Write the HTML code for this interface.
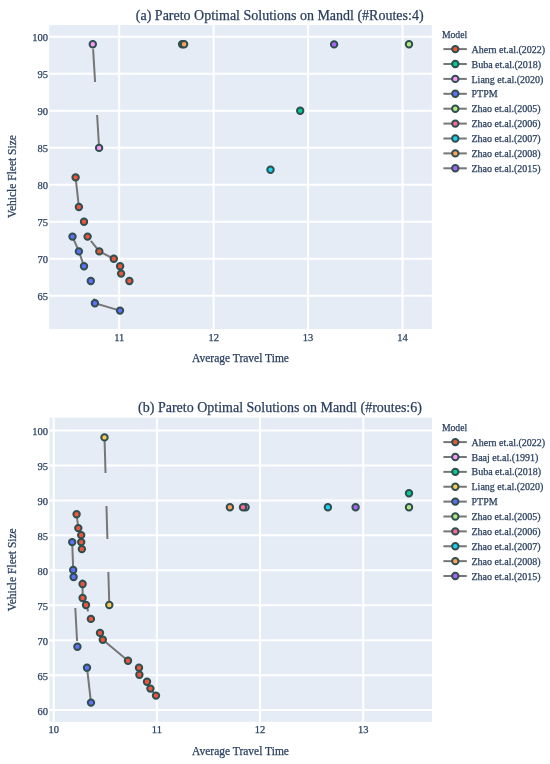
<!DOCTYPE html>
<html><head><meta charset="utf-8"><title>Pareto Optimal Solutions on Mandl</title>
<style>
html,body{margin:0;padding:0;background:#fff;}
body{width:550px;height:764px;overflow:hidden;}
svg{display:block;}
text{font-family:'Liberation Serif', serif;fill:#2a3f5f;stroke:#2a3f5f;stroke-width:0.25px;}
</style></head>
<body>
<svg width="550" height="764" viewBox="0 0 550 764">
<rect x="0" y="0" width="550" height="764" fill="#fff"/>
<rect x="49.20" y="25.00" width="382.60" height="304.00" fill="#E5ECF6"/>
<line x1="119.20" y1="25.0" x2="119.20" y2="329.0" stroke="#fff" stroke-width="2"/>
<line x1="213.65" y1="25.0" x2="213.65" y2="329.0" stroke="#fff" stroke-width="2"/>
<line x1="308.10" y1="25.0" x2="308.10" y2="329.0" stroke="#fff" stroke-width="2"/>
<line x1="402.55" y1="25.0" x2="402.55" y2="329.0" stroke="#fff" stroke-width="2"/>
<line x1="49.2" y1="36.80" x2="431.8" y2="36.80" stroke="#fff" stroke-width="2"/>
<line x1="49.2" y1="73.80" x2="431.8" y2="73.80" stroke="#fff" stroke-width="2"/>
<line x1="49.2" y1="110.80" x2="431.8" y2="110.80" stroke="#fff" stroke-width="2"/>
<line x1="49.2" y1="147.80" x2="431.8" y2="147.80" stroke="#fff" stroke-width="2"/>
<line x1="49.2" y1="184.80" x2="431.8" y2="184.80" stroke="#fff" stroke-width="2"/>
<line x1="49.2" y1="221.80" x2="431.8" y2="221.80" stroke="#fff" stroke-width="2"/>
<line x1="49.2" y1="258.80" x2="431.8" y2="258.80" stroke="#fff" stroke-width="2"/>
<line x1="49.2" y1="295.80" x2="431.8" y2="295.80" stroke="#fff" stroke-width="2"/>
<path d="M75.60,177.40 L78.90,207.00 L84.00,221.80 L87.60,236.60 L99.30,251.40 L113.80,258.80 L120.10,266.20 L121.10,273.60 L129.40,281.00" fill="none" stroke="#767676" stroke-width="2.0" stroke-dasharray="33.0 33.0" stroke-dashoffset="0.0"/>
<circle cx="75.60" cy="177.40" r="3.2" fill="#EF553B" stroke="#2f4f4f" stroke-width="2.0"/>
<circle cx="78.90" cy="207.00" r="3.2" fill="#EF553B" stroke="#2f4f4f" stroke-width="2.0"/>
<circle cx="84.00" cy="221.80" r="3.2" fill="#EF553B" stroke="#2f4f4f" stroke-width="2.0"/>
<circle cx="87.60" cy="236.60" r="3.2" fill="#EF553B" stroke="#2f4f4f" stroke-width="2.0"/>
<circle cx="99.30" cy="251.40" r="3.2" fill="#EF553B" stroke="#2f4f4f" stroke-width="2.0"/>
<circle cx="113.80" cy="258.80" r="3.2" fill="#EF553B" stroke="#2f4f4f" stroke-width="2.0"/>
<circle cx="120.10" cy="266.20" r="3.2" fill="#EF553B" stroke="#2f4f4f" stroke-width="2.0"/>
<circle cx="121.10" cy="273.60" r="3.2" fill="#EF553B" stroke="#2f4f4f" stroke-width="2.0"/>
<circle cx="129.40" cy="281.00" r="3.2" fill="#EF553B" stroke="#2f4f4f" stroke-width="2.0"/>
<circle cx="300.20" cy="110.80" r="3.2" fill="#00CC96" stroke="#2f4f4f" stroke-width="2.0"/>
<path d="M99.10,147.90 L92.80,44.30" fill="none" stroke="#767676" stroke-width="2.0" stroke-dasharray="33.0 33.0" stroke-dashoffset="0.0"/>
<circle cx="99.10" cy="147.90" r="3.2" fill="#FF97FF" stroke="#2f4f4f" stroke-width="2.0"/>
<circle cx="92.80" cy="44.30" r="3.2" fill="#FF97FF" stroke="#2f4f4f" stroke-width="2.0"/>
<path d="M72.50,236.60 L78.90,251.40 L84.00,266.20 L90.80,281.00 L94.90,303.20 L120.00,310.60" fill="none" stroke="#767676" stroke-width="2.0" stroke-dasharray="33.0 33.0" stroke-dashoffset="0.0"/>
<circle cx="72.50" cy="236.60" r="3.2" fill="#636EFA" stroke="#2f4f4f" stroke-width="2.0"/>
<circle cx="78.90" cy="251.40" r="3.2" fill="#636EFA" stroke="#2f4f4f" stroke-width="2.0"/>
<circle cx="84.00" cy="266.20" r="3.2" fill="#636EFA" stroke="#2f4f4f" stroke-width="2.0"/>
<circle cx="90.80" cy="281.00" r="3.2" fill="#636EFA" stroke="#2f4f4f" stroke-width="2.0"/>
<circle cx="94.90" cy="303.20" r="3.2" fill="#636EFA" stroke="#2f4f4f" stroke-width="2.0"/>
<circle cx="120.00" cy="310.60" r="3.2" fill="#636EFA" stroke="#2f4f4f" stroke-width="2.0"/>
<circle cx="409.00" cy="44.20" r="3.2" fill="#B6E880" stroke="#2f4f4f" stroke-width="2.0"/>
<circle cx="182.10" cy="44.20" r="3.2" fill="#FF6692" stroke="#2f4f4f" stroke-width="2.0"/>
<circle cx="270.50" cy="169.80" r="3.2" fill="#19D3F3" stroke="#2f4f4f" stroke-width="2.0"/>
<circle cx="184.10" cy="44.20" r="3.2" fill="#FFA15A" stroke="#2f4f4f" stroke-width="2.0"/>
<circle cx="334.10" cy="44.40" r="3.2" fill="#AB63FA" stroke="#2f4f4f" stroke-width="2.0"/>
<rect x="49.50" y="417.70" width="382.50" height="304.10" fill="#E5ECF6"/>
<line x1="53.70" y1="417.7" x2="53.70" y2="721.8" stroke="#fff" stroke-width="2"/>
<line x1="156.87" y1="417.7" x2="156.87" y2="721.8" stroke="#fff" stroke-width="2"/>
<line x1="260.04" y1="417.7" x2="260.04" y2="721.8" stroke="#fff" stroke-width="2"/>
<line x1="363.21" y1="417.7" x2="363.21" y2="721.8" stroke="#fff" stroke-width="2"/>
<line x1="49.5" y1="430.50" x2="432.0" y2="430.50" stroke="#fff" stroke-width="2"/>
<line x1="49.5" y1="465.45" x2="432.0" y2="465.45" stroke="#fff" stroke-width="2"/>
<line x1="49.5" y1="500.40" x2="432.0" y2="500.40" stroke="#fff" stroke-width="2"/>
<line x1="49.5" y1="535.35" x2="432.0" y2="535.35" stroke="#fff" stroke-width="2"/>
<line x1="49.5" y1="570.30" x2="432.0" y2="570.30" stroke="#fff" stroke-width="2"/>
<line x1="49.5" y1="605.25" x2="432.0" y2="605.25" stroke="#fff" stroke-width="2"/>
<line x1="49.5" y1="640.20" x2="432.0" y2="640.20" stroke="#fff" stroke-width="2"/>
<line x1="49.5" y1="675.15" x2="432.0" y2="675.15" stroke="#fff" stroke-width="2"/>
<line x1="49.5" y1="710.10" x2="432.0" y2="710.10" stroke="#fff" stroke-width="2"/>
<path d="M76.60,514.20 L78.30,528.10 L81.20,535.10 L81.20,542.10 L81.90,549.10 L82.60,584.00 L82.60,598.00 L86.00,605.00 L90.90,618.90 L100.00,632.90 L102.80,639.80 L128.00,660.70 L139.00,667.70 L139.40,674.70 L147.00,681.70 L150.40,688.60 L156.00,695.60" fill="none" stroke="#767676" stroke-width="2.0" stroke-dasharray="33.0 33.0" stroke-dashoffset="0.0"/>
<circle cx="76.60" cy="514.20" r="3.2" fill="#EF553B" stroke="#2f4f4f" stroke-width="2.0"/>
<circle cx="78.30" cy="528.10" r="3.2" fill="#EF553B" stroke="#2f4f4f" stroke-width="2.0"/>
<circle cx="81.20" cy="535.10" r="3.2" fill="#EF553B" stroke="#2f4f4f" stroke-width="2.0"/>
<circle cx="81.20" cy="542.10" r="3.2" fill="#EF553B" stroke="#2f4f4f" stroke-width="2.0"/>
<circle cx="81.90" cy="549.10" r="3.2" fill="#EF553B" stroke="#2f4f4f" stroke-width="2.0"/>
<circle cx="82.60" cy="584.00" r="3.2" fill="#EF553B" stroke="#2f4f4f" stroke-width="2.0"/>
<circle cx="82.60" cy="598.00" r="3.2" fill="#EF553B" stroke="#2f4f4f" stroke-width="2.0"/>
<circle cx="86.00" cy="605.00" r="3.2" fill="#EF553B" stroke="#2f4f4f" stroke-width="2.0"/>
<circle cx="90.90" cy="618.90" r="3.2" fill="#EF553B" stroke="#2f4f4f" stroke-width="2.0"/>
<circle cx="100.00" cy="632.90" r="3.2" fill="#EF553B" stroke="#2f4f4f" stroke-width="2.0"/>
<circle cx="102.80" cy="639.80" r="3.2" fill="#EF553B" stroke="#2f4f4f" stroke-width="2.0"/>
<circle cx="128.00" cy="660.70" r="3.2" fill="#EF553B" stroke="#2f4f4f" stroke-width="2.0"/>
<circle cx="139.00" cy="667.70" r="3.2" fill="#EF553B" stroke="#2f4f4f" stroke-width="2.0"/>
<circle cx="139.40" cy="674.70" r="3.2" fill="#EF553B" stroke="#2f4f4f" stroke-width="2.0"/>
<circle cx="147.00" cy="681.70" r="3.2" fill="#EF553B" stroke="#2f4f4f" stroke-width="2.0"/>
<circle cx="150.40" cy="688.60" r="3.2" fill="#EF553B" stroke="#2f4f4f" stroke-width="2.0"/>
<circle cx="156.00" cy="695.60" r="3.2" fill="#EF553B" stroke="#2f4f4f" stroke-width="2.0"/>
<circle cx="245.60" cy="507.20" r="3.2" fill="#FF97FF" stroke="#2f4f4f" stroke-width="2.0"/>
<circle cx="409.00" cy="493.30" r="3.2" fill="#00CC96" stroke="#2f4f4f" stroke-width="2.0"/>
<path d="M109.30,605.00 L104.50,437.40" fill="none" stroke="#767676" stroke-width="2.0" stroke-dasharray="33.0 33.0" stroke-dashoffset="0.0"/>
<circle cx="109.30" cy="605.00" r="3.2" fill="#FECB52" stroke="#2f4f4f" stroke-width="2.0"/>
<circle cx="104.50" cy="437.40" r="3.2" fill="#FECB52" stroke="#2f4f4f" stroke-width="2.0"/>
<path d="M72.20,542.10 L73.20,570.00 L73.60,577.00 L77.40,646.80 L87.00,667.70 L91.00,702.60" fill="none" stroke="#767676" stroke-width="2.0" stroke-dasharray="33.0 33.0" stroke-dashoffset="0.0"/>
<circle cx="72.20" cy="542.10" r="3.2" fill="#636EFA" stroke="#2f4f4f" stroke-width="2.0"/>
<circle cx="73.20" cy="570.00" r="3.2" fill="#636EFA" stroke="#2f4f4f" stroke-width="2.0"/>
<circle cx="73.60" cy="577.00" r="3.2" fill="#636EFA" stroke="#2f4f4f" stroke-width="2.0"/>
<circle cx="77.40" cy="646.80" r="3.2" fill="#636EFA" stroke="#2f4f4f" stroke-width="2.0"/>
<circle cx="87.00" cy="667.70" r="3.2" fill="#636EFA" stroke="#2f4f4f" stroke-width="2.0"/>
<circle cx="91.00" cy="702.60" r="3.2" fill="#636EFA" stroke="#2f4f4f" stroke-width="2.0"/>
<circle cx="409.00" cy="507.20" r="3.2" fill="#B6E880" stroke="#2f4f4f" stroke-width="2.0"/>
<circle cx="243.00" cy="507.20" r="3.2" fill="#FF6692" stroke="#2f4f4f" stroke-width="2.0"/>
<circle cx="327.90" cy="507.20" r="3.2" fill="#19D3F3" stroke="#2f4f4f" stroke-width="2.0"/>
<circle cx="229.90" cy="507.20" r="3.2" fill="#FFA15A" stroke="#2f4f4f" stroke-width="2.0"/>
<circle cx="355.60" cy="507.20" r="3.2" fill="#AB63FA" stroke="#2f4f4f" stroke-width="2.0"/>
<text x="47.90" y="41.20" font-size="10.5" text-anchor="end" >100</text>
<text x="47.90" y="78.20" font-size="10.5" text-anchor="end" >95</text>
<text x="47.90" y="115.20" font-size="10.5" text-anchor="end" >90</text>
<text x="47.90" y="152.20" font-size="10.5" text-anchor="end" >85</text>
<text x="47.90" y="189.20" font-size="10.5" text-anchor="end" >80</text>
<text x="47.90" y="226.20" font-size="10.5" text-anchor="end" >75</text>
<text x="47.90" y="263.20" font-size="10.5" text-anchor="end" >70</text>
<text x="47.90" y="300.20" font-size="10.5" text-anchor="end" >65</text>
<text x="119.20" y="340.60" font-size="10.5" text-anchor="middle" >11</text>
<text x="213.65" y="340.60" font-size="10.5" text-anchor="middle" >12</text>
<text x="308.10" y="340.60" font-size="10.5" text-anchor="middle" >13</text>
<text x="402.55" y="340.60" font-size="10.5" text-anchor="middle" >14</text>
<text x="47.90" y="434.90" font-size="10.5" text-anchor="end" >100</text>
<text x="47.90" y="469.85" font-size="10.5" text-anchor="end" >95</text>
<text x="47.90" y="504.80" font-size="10.5" text-anchor="end" >90</text>
<text x="47.90" y="539.75" font-size="10.5" text-anchor="end" >85</text>
<text x="47.90" y="574.70" font-size="10.5" text-anchor="end" >80</text>
<text x="47.90" y="609.65" font-size="10.5" text-anchor="end" >75</text>
<text x="47.90" y="644.60" font-size="10.5" text-anchor="end" >70</text>
<text x="47.90" y="679.55" font-size="10.5" text-anchor="end" >65</text>
<text x="47.90" y="714.50" font-size="10.5" text-anchor="end" >60</text>
<text x="53.70" y="733.00" font-size="10.5" text-anchor="middle" >10</text>
<text x="156.87" y="733.00" font-size="10.5" text-anchor="middle" >11</text>
<text x="260.04" y="733.00" font-size="10.5" text-anchor="middle" >12</text>
<text x="363.21" y="733.00" font-size="10.5" text-anchor="middle" >13</text>
<text x="279.70" y="19.60" font-size="14.0" text-anchor="middle" >(a) Pareto Optimal Solutions on Mandl (#Routes:4)</text>
<text x="280.00" y="412.00" font-size="14.0" text-anchor="middle" >(b) Pareto Optimal Solutions on Mandl (#routes:6)</text>
<text x="240.50" y="362.20" font-size="11.5" text-anchor="middle" >Average Travel Time</text>
<text x="240.50" y="754.50" font-size="11.5" text-anchor="middle" >Average Travel Time</text>
<text transform="translate(16.2,176.6) rotate(-90)" font-size="11.5" text-anchor="middle">Vehicle Fleet Size</text>
<text transform="translate(16.2,569.8) rotate(-90)" font-size="11.5" text-anchor="middle">Vehicle Fleet Size</text>
<text x="441.90" y="37.50" font-size="9.7" text-anchor="start" >Model</text>
<line x1="443.4" y1="49.10" x2="466.8" y2="49.10" stroke="#767676" stroke-width="2.0"/>
<circle cx="455.3" cy="49.10" r="3.2" fill="#EF553B" stroke="#2f4f4f" stroke-width="2.0"/>
<text x="471.50" y="52.70" font-size="10" text-anchor="start" >Ahern et.al.(2022)</text>
<line x1="443.4" y1="64.00" x2="466.8" y2="64.00" stroke="#767676" stroke-width="2.0"/>
<circle cx="455.3" cy="64.00" r="3.2" fill="#00CC96" stroke="#2f4f4f" stroke-width="2.0"/>
<text x="471.50" y="67.60" font-size="10" text-anchor="start" >Buba et.al.(2018)</text>
<line x1="443.4" y1="78.90" x2="466.8" y2="78.90" stroke="#767676" stroke-width="2.0"/>
<circle cx="455.3" cy="78.90" r="3.2" fill="#FF97FF" stroke="#2f4f4f" stroke-width="2.0"/>
<text x="471.50" y="82.50" font-size="10" text-anchor="start" >Liang et.al.(2020)</text>
<line x1="443.4" y1="93.80" x2="466.8" y2="93.80" stroke="#767676" stroke-width="2.0"/>
<circle cx="455.3" cy="93.80" r="3.2" fill="#636EFA" stroke="#2f4f4f" stroke-width="2.0"/>
<text x="471.50" y="97.40" font-size="10" text-anchor="start" >PTPM</text>
<line x1="443.4" y1="108.70" x2="466.8" y2="108.70" stroke="#767676" stroke-width="2.0"/>
<circle cx="455.3" cy="108.70" r="3.2" fill="#B6E880" stroke="#2f4f4f" stroke-width="2.0"/>
<text x="471.50" y="112.30" font-size="10" text-anchor="start" >Zhao et.al.(2005)</text>
<line x1="443.4" y1="123.60" x2="466.8" y2="123.60" stroke="#767676" stroke-width="2.0"/>
<circle cx="455.3" cy="123.60" r="3.2" fill="#FF6692" stroke="#2f4f4f" stroke-width="2.0"/>
<text x="471.50" y="127.20" font-size="10" text-anchor="start" >Zhao et.al.(2006)</text>
<line x1="443.4" y1="138.50" x2="466.8" y2="138.50" stroke="#767676" stroke-width="2.0"/>
<circle cx="455.3" cy="138.50" r="3.2" fill="#19D3F3" stroke="#2f4f4f" stroke-width="2.0"/>
<text x="471.50" y="142.10" font-size="10" text-anchor="start" >Zhao et.al.(2007)</text>
<line x1="443.4" y1="153.40" x2="466.8" y2="153.40" stroke="#767676" stroke-width="2.0"/>
<circle cx="455.3" cy="153.40" r="3.2" fill="#FFA15A" stroke="#2f4f4f" stroke-width="2.0"/>
<text x="471.50" y="157.00" font-size="10" text-anchor="start" >Zhao et.al.(2008)</text>
<line x1="443.4" y1="168.30" x2="466.8" y2="168.30" stroke="#767676" stroke-width="2.0"/>
<circle cx="455.3" cy="168.30" r="3.2" fill="#AB63FA" stroke="#2f4f4f" stroke-width="2.0"/>
<text x="471.50" y="171.90" font-size="10" text-anchor="start" >Zhao et.al.(2015)</text>
<text x="441.90" y="430.70" font-size="9.7" text-anchor="start" >Model</text>
<line x1="443.4" y1="442.10" x2="466.8" y2="442.10" stroke="#767676" stroke-width="2.0"/>
<circle cx="455.3" cy="442.10" r="3.2" fill="#EF553B" stroke="#2f4f4f" stroke-width="2.0"/>
<text x="471.50" y="445.70" font-size="10" text-anchor="start" >Ahern et.al.(2022)</text>
<line x1="443.4" y1="456.98" x2="466.8" y2="456.98" stroke="#767676" stroke-width="2.0"/>
<circle cx="455.3" cy="456.98" r="3.2" fill="#FF97FF" stroke="#2f4f4f" stroke-width="2.0"/>
<text x="471.50" y="460.58" font-size="10" text-anchor="start" >Baaj et.al.(1991)</text>
<line x1="443.4" y1="471.86" x2="466.8" y2="471.86" stroke="#767676" stroke-width="2.0"/>
<circle cx="455.3" cy="471.86" r="3.2" fill="#00CC96" stroke="#2f4f4f" stroke-width="2.0"/>
<text x="471.50" y="475.46" font-size="10" text-anchor="start" >Buba et.al.(2018)</text>
<line x1="443.4" y1="486.74" x2="466.8" y2="486.74" stroke="#767676" stroke-width="2.0"/>
<circle cx="455.3" cy="486.74" r="3.2" fill="#FECB52" stroke="#2f4f4f" stroke-width="2.0"/>
<text x="471.50" y="490.34" font-size="10" text-anchor="start" >Liang et.al.(2020)</text>
<line x1="443.4" y1="501.62" x2="466.8" y2="501.62" stroke="#767676" stroke-width="2.0"/>
<circle cx="455.3" cy="501.62" r="3.2" fill="#636EFA" stroke="#2f4f4f" stroke-width="2.0"/>
<text x="471.50" y="505.22" font-size="10" text-anchor="start" >PTPM</text>
<line x1="443.4" y1="516.50" x2="466.8" y2="516.50" stroke="#767676" stroke-width="2.0"/>
<circle cx="455.3" cy="516.50" r="3.2" fill="#B6E880" stroke="#2f4f4f" stroke-width="2.0"/>
<text x="471.50" y="520.10" font-size="10" text-anchor="start" >Zhao et.al.(2005)</text>
<line x1="443.4" y1="531.38" x2="466.8" y2="531.38" stroke="#767676" stroke-width="2.0"/>
<circle cx="455.3" cy="531.38" r="3.2" fill="#FF6692" stroke="#2f4f4f" stroke-width="2.0"/>
<text x="471.50" y="534.98" font-size="10" text-anchor="start" >Zhao et.al.(2006)</text>
<line x1="443.4" y1="546.26" x2="466.8" y2="546.26" stroke="#767676" stroke-width="2.0"/>
<circle cx="455.3" cy="546.26" r="3.2" fill="#19D3F3" stroke="#2f4f4f" stroke-width="2.0"/>
<text x="471.50" y="549.86" font-size="10" text-anchor="start" >Zhao et.al.(2007)</text>
<line x1="443.4" y1="561.14" x2="466.8" y2="561.14" stroke="#767676" stroke-width="2.0"/>
<circle cx="455.3" cy="561.14" r="3.2" fill="#FFA15A" stroke="#2f4f4f" stroke-width="2.0"/>
<text x="471.50" y="564.74" font-size="10" text-anchor="start" >Zhao et.al.(2008)</text>
<line x1="443.4" y1="576.02" x2="466.8" y2="576.02" stroke="#767676" stroke-width="2.0"/>
<circle cx="455.3" cy="576.02" r="3.2" fill="#AB63FA" stroke="#2f4f4f" stroke-width="2.0"/>
<text x="471.50" y="579.62" font-size="10" text-anchor="start" >Zhao et.al.(2015)</text>
</svg>
</body></html>
